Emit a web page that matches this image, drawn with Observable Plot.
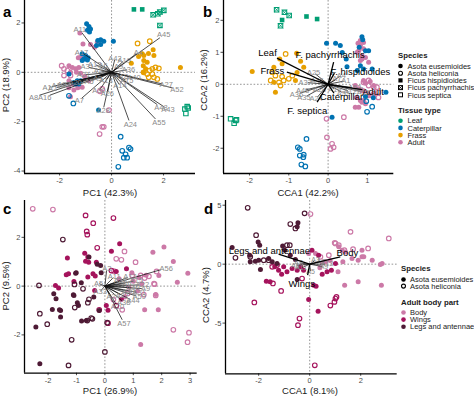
<!DOCTYPE html>
<html><head><meta charset="utf-8">
<script src="https://cdn.jsdelivr.net/npm/d3@7"></script>
<script src="https://cdn.jsdelivr.net/npm/@observablehq/plot@0.6"></script>
<style>
body{margin:0;background:#fff;}
#wrap{position:relative;width:474px;height:396px;overflow:hidden;font-family:"Liberation Sans",Arial,sans-serif;}
.pan{position:absolute;}
#ov{position:absolute;left:0;top:0;pointer-events:none;}
</style></head>
<body><div id="wrap"></div>
<script>
// ---------------- Panel a (PCA, all tissues) ----------------
const aLeafHisp = [[0.86,2.55],[1.18,2.55]];
const aLeafPachy = [[1.60,2.33],[1.78,2.37],[1.86,2.44],[2.01,2.51],[1.86,1.90]];
const aLeafSept = [[2.82,-1.49],[2.91,-1.39],[2.95,-1.45],[2.86,-1.67]];
const aCatEus = [[-0.96,1.97],[-0.87,1.86],[-0.81,1.76],[-0.93,1.70],[-0.85,1.63],[-0.53,1.29],[-0.42,1.32],[-0.30,1.26],[-0.58,1.09],[-0.42,1.13],[0.07,1.26],[-1.13,0.75],[-1.00,0.68],[-1.07,0.54],[-0.90,0.59],[-1.13,0.48],[-0.93,0.50],[-1.64,-0.07],[-1.45,-0.41],[-1.32,-0.34],[-1.19,-0.34],[-1.26,-0.47],[-1.38,-0.47],[-0.50,-1.53]];
const aCatHel = [[0.35,-2.61],[0.67,-3.05],[0.73,-3.11],[0.41,-3.18],[0.54,-3.32],[0.60,-3.46],[0.47,-3.46],[0.26,-3.83],[-1.47,-1.26],[-1.64,-0.95]];
const aFrassEus = [[1.60,0.91],[1.18,0.75],[1.24,0.68],[1.63,0.68],[0.76,0.37],[1.24,0.48],[1.37,0.41],[1.22,0.27],[2.65,0.20],[1.22,0.00],[1.31,0.14],[1.42,0.76],[1.04,0.64]];
const aFrassHel = [[1.47,1.26],[1.69,0.20],[1.82,0.16],[1.57,0.14],[1.47,0.07],[1.24,0.00],[1.37,-0.07],[1.57,-0.07],[1.63,-0.20],[1.43,-0.20],[1.76,-0.27],[1.00,1.17]];
const aAdultEus = [[-1.22,1.59],[-1.10,1.15],[-0.81,1.13],[-0.55,1.22],[-0.65,1.02],[-1.28,0.59],[-1.19,0.61],[-1.64,0.27],[-1.51,0.20],[-1.38,0.14],[-1.26,0.20],[-1.58,0.00],[-1.35,0.00],[-1.19,-0.04],[-1.64,-0.34],[-1.47,-0.47],[-1.30,-0.63],[-1.13,-0.61],[-1.45,-0.72],[-1.64,-0.63],[-1.58,-0.99],[-1.04,-0.17],[-0.88,-0.34]];
const aAdultHel = [[-1.92,0.27],[-1.83,0.14],[-1.83,-0.13],[-1.70,0.07],[-1.58,-0.13],[-0.45,-0.77],[-0.36,-0.67],[-0.10,-1.53],[-0.30,-2.21],[-0.36,-2.21],[-0.46,-2.50]];
const aLoad = [["A11",-1.13,1.59],["A17",-1.07,0.75],["A31",-0.87,0.20],["A1",-2.30,-0.58],["A8",-2.78,-0.93],["A16",-2.38,-0.93],["A2",-2.1,-0.62],["A10",-1.9,-0.5],["A33",-1.7,-0.45],["A30",-0.45,-0.70],["A7",-1.15,-1.05],["A28",-0.30,-1.42],["A24",0.67,-1.95],["A55",1.69,-1.89],["A43",2.01,-1.39],["A48",1.76,-1.31],["A52",2.33,-0.63],["A27",1.95,-0.47],["A45",1.86,1.40],["A4",0.95,0.75],["A42",0.12,0.5],["A19",0.45,0.45],["A15",0.54,-0.31],["A21",-1.0,-0.1],["A12",-0.6,0.3],["A36",0.6,0.1],["A14",0.3,-0.5],["A26",-0.15,-0.8],["A40",0.8,-0.2],["A3",-0.5,-0.25],["A5",-0.8,-0.35],["A6",-0.3,0.25],["A9",0.25,0.2],["A13",-0.2,-0.3],["A18",0.35,-0.15],["A20",-1.3,-0.4],["A22",-0.4,0.05]];

// ---------------- Panel b (CCA, all tissues) ----------------
const bLeafHisp = [[-0.55,2.12],[-0.28,2.04],[-1.17,2.01]];
const bLeafPachy = [[-1.31,2.33],[-1.11,2.25],[-0.99,2.15],[-1.21,1.83]];
const bLeafSept = [[-2.48,-1.08],[-2.35,-1.13],[-2.39,-1.22],[-2.33,-1.11]];
const bCatEus = [[-0.04,1.28],[0.19,1.28],[0.31,1.21],[0.36,0.99],[0.46,0.79],[0.86,1.49],[0.88,1.39],[0.79,1.16],[0.95,1.05],[1.03,1.05],[0.48,0.55],[0.82,0.58],[0.74,0.43],[0.90,0.48],[1.12,0.48],[1.47,-0.25],[0.95,-0.38],[1.15,-0.42],[0.10,-1.03]];
const bCatHel = [[-0.55,-1.71],[-0.77,-1.97],[-0.72,-2.02],[-0.62,-2.20],[-0.72,-2.23],[-0.63,-2.28],[-0.68,-2.51],[-0.58,-2.57],[1.12,-0.70],[0.99,-0.86],[0.97,-0.53]];
const bFrassEus = [[-1.93,0.40],[-1.23,0.79],[-1.17,0.64],[-1.38,0.53],[-0.80,0.97],[-0.70,0.72],[-0.62,0.53],[-1.34,-0.25],[-1.38,0.06],[-0.79,0.37],[-0.83,0.12]];
const bFrassHel = [[-1.08,0.95],[-1.42,0.38],[-1.34,0.27],[-1.17,0.24],[-1.13,0.12],[-1.25,0.06],[-1.46,0.12],[-1.21,-0.04],[-0.91,0.27],[-1.00,0.17]];
const bAdultEus = [[0.76,1.28],[0.82,1.37],[0.90,1.31],[0.86,0.79],[0.74,1.0],[0.90,0.12],[0.95,0.03],[1.07,0.09],[1.16,-0.04],[0.86,-0.20],[1.03,-0.36],[0.90,-0.51],[0.78,-0.72],[0.95,-0.61],[0.82,1.21],[0.90,1.11],[0.78,1.05],[0.86,0.89],[0.95,0.84],[0.82,0.74],[1.03,0.69],[0.69,-0.04],[0.78,-0.14],[0.90,-0.20],[0.72,-0.41],[0.82,-0.51],[0.69,-0.72],[0.86,-0.56]];
const bAdultHel = [[1.03,0.12],[1.24,-0.09],[1.28,-0.41],[1.16,-0.30],[0.90,0.06],[1.03,-0.04],[1.16,-0.09],[0.99,-0.30],[1.12,-0.35],[1.28,-0.25],[-0.04,-1.08],[0.40,-1.03],[-0.03,-1.66],[0.10,-1.86],[0.14,-1.97],[0.06,-2.02]];
const bEnvNames = ["Leaf","Frass","F. pachyrrhachis","F. hispidioides","Caterpillar","Adult","F. septica"];
const bEnvX = [-1.30,-1.05,0.14,0.16,0.15,0.87,-0.28];
const bEnvY = [0.82,0.38,0.69,0.35,-0.28,-0.17,-0.56];
const bEnvLabX = [-1.54,-1.42,0.05,0.82,0.34,1.14,-0.53];
const bEnvLabY = [0.99,0.41,0.93,0.37,-0.41,-0.25,-0.82];
const bLoad = [["A25",-0.33,0.33],["A37",-0.52,0.05],["A36",-0.72,-0.28],["A43",-0.58,-0.18],["A35",-0.55,-0.37],["A24",-0.27,-0.40],["A4",0.3,0.25],["A1",0.4,0.1],["A52",0.6,-0.1],["A8",0.7,-0.15],["A12",0.5,-0.2],["A16",0.8,-0.22],["A55",0.35,-0.25],["A7",0.2,0.15],["A19",0.15,-0.15],["A28",-0.2,-0.15],["A45",-0.25,0.1]];

// ---------------- Panel c (PCA, adults) ----------------
const cBodyEus = [[2.08,1.60],[1.69,1.39],[2.41,1.01],[2.92,0.53],[2.55,0.16],[1.90,0.44],[1.79,-0.34],[1.88,-0.97],[1.40,-0.97],[1.26,-2.39],[1.45,0.45],[1.2,0.35],[1.0,0.2],[0.85,-0.05],[1.15,-0.2],[0.7,-0.45],[0.5,0.3],[1.3,0.1],[0.95,0.55]];
const cWingsEus = [[0.52,1.74],[0.23,1.43],[-1.32,1.15],[-0.71,1.35],[-0.60,1.19],[-0.68,1.02],[-0.57,0.98],[-0.30,0.98],[-1.36,0.47],[-1.28,0.51],[-1.09,0.19],[-0.42,0.51],[-0.34,0.41],[-0.60,0.37],[-1.74,0.03],[-1.63,-0.08],[0.76,0.71],[0.58,-0.54],[0.05,-0.79],[0.11,-0.99],[-0.36,-0.18],[0.4,0.6]];
const cLegsEus = [[-2.29,-3.18],[-2.43,-1.68],[-1.85,-0.96],[-1.56,-1.00],[-1.56,-1.27],[-1.80,-0.31],[-1.72,-0.52],[-1.11,-0.35],[-0.97,-0.68],[-0.93,-0.79],[-0.82,-1.43],[-0.65,-1.41],[-1.01,0.55],[-1.03,0.53],[-0.27,0.90],[-0.15,0.85],[-0.56,1.19],[-0.13,0.55],[-0.83,0.14],[-0.39,-0.45],[-1.09,-0.38],[-1.60,-0.97],[-0.2,-1.0]];
const cBodyHel = [[-2.54,3.17],[-1.83,3.14],[0.69,1.42],[0.40,1.12],[0.58,1.08],[1.08,0.98],[1.55,0.40],[1.26,0.44],[1.40,0.33],[1.82,0.60],[1.75,0.08],[1.79,-0.38],[2.41,-1.79],[2.96,-1.91],[2.91,-2.30],[1.37,-0.35],[0.96,0.44],[1.73,0.10],[0.32,0.61],[0.61,-0.97],[0.3,-0.55],[0.8,-0.3]];
const cWingsHel = [[-0.68,2.90],[-0.41,2.58],[0.30,2.79],[-0.64,2.24],[-0.62,2.11],[-0.27,1.57],[0.23,0.64],[0.11,-1.52],[-0.20,-0.97],[0.4,-0.8]];
const cLegsHel = [[-1.48,1.91],[-2.32,0.03],[-0.77,-0.11],[-1.07,0.07],[-0.56,-0.54],[-0.60,-0.68],[-1.06,-0.88],[-0.48,-1.31],[-0.62,-1.41],[0.08,-1.50],[-2.29,-1.13],[-2.03,-1.56],[-1.17,-2.20],[0.00,-2.70],[-1.28,-3.25],[-0.44,-1.34]];
const cLoad = [["A56",1.96,0.67],["A57",0.61,-1.38],["A59",1.10,-0.40],["A3",0.06,0.64],["A12",0.8,0.35],["A15",1.0,0.2],["A22",1.2,0.05],["A9",1.3,-0.1],["A31",1.1,-0.25],["A44",0.9,-0.55],["A38",0.6,-0.6],["A20",0.4,-0.75],["A6",0.7,0.1],["A18",0.5,0.2],["A40",0.9,-0.05],["A48",0.75,-0.2],["A27",0.55,-0.35],["A11",0.3,0.35],["A2",0.2,-0.4],["A5",-0.2,0.1],["A33",-0.15,-0.2]];

// ---------------- Panel d (CCA, adults) ----------------
const dLegsEus = [[-3.04,1.42],[-2.02,1.89],[-1.96,1.61],[-2.33,0.20],[-2.13,0.25],[-2.0,0.34],[-2.35,0.76],[-1.93,-0.45],[-1.61,0.48],[-1.47,0.20],[-1.28,0.06],[-1.06,1.53],[-0.98,1.19],[-0.46,3.51],[-0.49,3.17],[-0.76,0.76],[-0.56,0.40],[-0.49,-1.30]];
const dWingsEus = [[-1.70,-1.44],[-1.37,-0.23],[-1.22,-0.51],[-1.02,-0.23],[-0.89,-0.65],[-0.69,-0.37],[-0.49,-0.51],[-0.36,-0.23],[-0.24,-0.51],[-0.04,-3.0],[0.33,-3.99],[0.25,-1.87],[0.16,-1.78],[0.49,-0.85],[0.68,-0.65],[0.85,-0.51],[1.01,0.06],[0.09,1.19],[0.35,0.76],[-1.55,-1.5],[-1.1,-0.85]];
const dBodyEus = [[1.14,1.47],[1.27,1.19],[1.40,1.04],[1.66,0.48],[2.05,0.62],[2.45,0.34],[2.84,0.06],[1.90,-1.50],[2.81,-1.78],[1.37,-1.78],[1.11,-0.65],[2.12,0.62],[2.77,-0.03],[2.05,1.19],[1.90,0.34],[-0.04,0.9],[0.23,0.9],[0.62,0.2],[0.5,0.1],[0.8,0.3],[1.3,0.2],[0.4,-0.3]];
const dLegsHel = [[-2.43,4.78],[-2.10,2.46],[-2.91,0.54],[-2.33,0.62],[-1.80,0.34],[-1.61,0.34],[-0.89,1.61],[-0.78,1.61],[-0.56,3.03],[-0.76,3.40],[-0.20,4.31]];
const dWingsHel = [[-1.47,-0.23],[-1.44,-1.64],[-1.12,-2.27],[-2.17,-3.25],[-0.30,-1.22],[-0.40,-4.61],[-0.46,-5.18],[0.20,-8.58],[0.81,-3.51],[1.01,-2.92],[0.97,-3.20],[1.05,-2.78],[-1.28,-0.08]];
const dBodyHel = [[0.03,4.25],[1.60,2.74],[1.01,1.76],[1.14,1.61],[0.42,0.62],[0.75,0.76],[1.36,1.19],[1.70,1.27],[3.10,2.18],[2.29,1.33],[0.98,1.81]];
const dEnvNames = ["Legs and antennae","Body","Wings"];
const dEnvX = [-1.22,1.20,-0.08];
const dEnvY = [0.85,0.62,-0.93];
const dEnvLabX = [-1.58,1.48,-0.31];
const dEnvLabY = [1.10,0.96,-1.64];
const dLoad = [["A5",0.03,-0.6],["A2",0.4,0.2],["A7",-0.4,0.1],["A9",0.5,-0.2],["A11",-0.3,-0.3],["A3",0.2,0.3],["A13",0.6,0.0],["A6",-0.5,-0.1]];

// ---------------- Legends / labels ----------------
const speciesTop = ["Asota eusemioides","Asota heliconia","Ficus hispidioides","Ficus pachyrrhachis","Ficus septica"];
const speciesShapes = ["fc","oc","fs","xs","os"];
const tissueTypes = ["Leaf","Caterpillar","Frass","Adult"];
const tissueColors = ["#009E73","#0072B2","#E69F00","#CC79A7"];
const speciesBottom = ["Asota eusemioides","Asota heliconia"];
const bodyParts = ["Body","Wings","Legs and antennae"];
const bodyColors = ["#CC79A7","#A5135C","#4E1A35"];
const axisTitles = {a:["PC1 (42.3%)","PC2 (18.9%)"], b:["CCA1 (42.2%)","CCA2 (16.2%)"], c:["PC1 (26.9%)","PC2 (9.5%)"], d:["CCA1 (8.1%)","CCA2 (4.7%)"]};

const [LEAF,CAT,FRASS,ADULT] = tissueColors;
const [BODY,WINGS,LEGS] = bodyColors;
const FONT = '"Liberation Sans", Arial, sans-serif';
const X = d => d[0], Y = d => d[1];

function pts(data, color, kind) {
  const o = {x: X, y: Y};
  if (kind === "fc") return [Plot.dot(data, {...o, r: 2.5, fill: color})];
  if (kind === "oc") return [Plot.dot(data, {...o, r: 2.3, fill: "none", stroke: color, strokeWidth: 1.15})];
  if (kind === "fs") return [Plot.dot(data, {...o, symbol: "square", r: 2.6, fill: color})];
  if (kind === "os") return [Plot.dot(data, {...o, symbol: "square", r: 2.5, fill: "none", stroke: color, strokeWidth: 1.1})];
  if (kind === "xs") return [Plot.dot(data, {...o, symbol: "square", r: 2.5, fill: "none", stroke: color, strokeWidth: 1.1}),
                            Plot.dot(data, {...o, symbol: "times", r: 2.4, fill: "none", stroke: color, strokeWidth: 0.9})];
}
function loads(data, k, col, fs) {
  return [
    Plot.link(data, {x1: () => 0, y1: () => 0, x2: d => d[1], y2: d => d[2], stroke: "#111", strokeWidth: 0.75}),
    Plot.text(data, {x: d => d[1] * k, y: d => d[2] * k, text: d => d[0], fill: col, fontSize: fs})
  ];
}
function envArrows(names, xs, ys, lx, ly) {
  const rows = names.map((n, i) => ({n, x: xs[i], y: ys[i], lx: lx[i], ly: ly[i]}));
  return [
    Plot.link(rows, {x1: () => 0, y1: () => 0, x2: "x", y2: "y", stroke: "#000", strokeWidth: 1.3}),
    Plot.text(rows, {x: "lx", y: "ly", text: "n", fill: "#000", fontSize: 9.5})
  ];
}
function panel(cfg) {
  const dash = {stroke: "#7a7a7a", strokeWidth: 0.8, strokeDasharray: "1.6,1.8"};
  const ax = {tickSize: 2.5, tickPadding: 1.5, label: null, tickFormat: d => String(d), fontSize: 7.5, color: "#4d4d4d"};
  const svg = Plot.plot({
    width: 200, height: 200,
    marginLeft: cfg.ml, marginRight: cfg.mr, marginTop: cfg.mt, marginBottom: cfg.mb,
    x: {domain: cfg.xd}, y: {domain: cfg.yd},
    style: {fontFamily: FONT, fontSize: "7.5px", background: "none", overflow: "visible"},
    marks: [
      Plot.ruleX([0], dash), Plot.ruleY([0], dash),
      ...cfg.marks,
      Plot.axisX(cfg.xt, {anchor: "bottom", ...ax}),
      Plot.axisY(cfg.yt, {anchor: "left", ...ax}),
      Plot.ruleY([cfg.yd[0]], {stroke: "#000", strokeWidth: 1.3}),
      Plot.ruleX([cfg.xd[0]], {stroke: "#000", strokeWidth: 1.3})
    ]
  });
  const div = document.createElement("div");
  div.className = "pan";
  div.style.left = cfg.left + "px"; div.style.top = cfg.top + "px";
  div.appendChild(svg);
  document.getElementById("wrap").appendChild(div);
}

panel({left: 0, top: 0, ml: 24, mr: 5, mt: 0, mb: 27, xd: [-3.35, 3.23], yd: [-4.1, 2.91], xt: [-2, 0, 2], yt: [-4, -2, 0, 2],
  marks: [
    ...pts(aAdultEus, ADULT, "fc"), ...pts(aAdultHel, ADULT, "oc"),
    ...pts(aCatEus, CAT, "fc"), ...pts(aCatHel, CAT, "oc"),
    ...pts(aFrassEus, FRASS, "fc"), ...pts(aFrassHel, FRASS, "oc"),
    ...pts(aLeafHisp, LEAF, "fs"), ...pts(aLeafPachy, LEAF, "xs"), ...pts(aLeafSept, LEAF, "os"),
    ...loads(aLoad, 1.08, "#8a8a8a", 7.5)
  ]});
panel({left: 199, top: 0, ml: 24, mr: 5.7, mt: 0, mb: 27, xd: [-2.66, 1.67], yd: [-2.79, 2.62], xt: [-2, -1, 0, 1], yt: [-2, -1, 0, 1, 2],
  marks: [
    ...pts(bAdultEus, ADULT, "fc"), ...pts(bAdultHel, ADULT, "oc"),
    ...pts(bCatEus, CAT, "fc"), ...pts(bCatHel, CAT, "oc"),
    ...pts(bFrassEus, FRASS, "fc"), ...pts(bFrassHel, FRASS, "oc"),
    ...pts(bLeafHisp, LEAF, "fs"), ...pts(bLeafPachy, LEAF, "xs"), ...pts(bLeafSept, LEAF, "os"),
    ...loads(bLoad, 1.12, "#8a8a8a", 7.5),
    ...envArrows(bEnvNames, bEnvX, bEnvY, bEnvLabX, bEnvLabY)
  ]});
panel({left: 0, top: 196, ml: 24, mr: 3.3, mt: 4, mb: 23.3, xd: [-2.83, 3.25], yd: [-3.57, 3.51], xt: [-2, -1, 0, 1, 2, 3], yt: [-2, 0, 2],
  marks: [
    ...pts(cBodyEus, BODY, "fc"), ...pts(cBodyHel, BODY, "oc"),
    ...pts(cWingsEus, WINGS, "fc"), ...pts(cWingsHel, WINGS, "oc"),
    ...pts(cLegsEus, LEGS, "fc"), ...pts(cLegsHel, LEGS, "oc"),
    ...loads(cLoad, 1.1, "#8a8a8a", 7.5)
  ]});
panel({left: 199, top: 196, ml: 26, mr: 2.3, mt: 4, mb: 22.7, xd: [-3.3, 3.43], yd: [-9.3, 5.4], xt: [-2, 0, 2], yt: [-5, 0, 5],
  marks: [
    ...pts(dBodyEus, BODY, "fc"), ...pts(dBodyHel, BODY, "oc"),
    ...pts(dWingsEus, WINGS, "fc"), ...pts(dWingsHel, WINGS, "oc"),
    ...pts(dLegsEus, LEGS, "fc"), ...pts(dLegsHel, LEGS, "oc"),
    ...loads(dLoad, 1.12, "#8a8a8a", 7),
    ...envArrows(dEnvNames, dEnvX, dEnvY, dEnvLabX, dEnvLabY)
  ]});

// ---------------- Overlay: letters, axis titles, legends ----------------
function sym(kind, cx, cy, color) {
  if (kind === "fc") return `<circle cx="${cx}" cy="${cy}" r="2.3" fill="${color}"/>`;
  if (kind === "oc") return `<circle cx="${cx}" cy="${cy}" r="2" fill="none" stroke="${color}" stroke-width="1.1"/>`;
  if (kind === "fs") return `<rect x="${cx-2.1}" y="${cy-2.1}" width="4.2" height="4.2" fill="${color}"/>`;
  if (kind === "os") return `<rect x="${cx-2}" y="${cy-2}" width="4" height="4" fill="none" stroke="${color}" stroke-width="1"/>`;
  return `<rect x="${cx-2}" y="${cy-2}" width="4" height="4" fill="none" stroke="${color}" stroke-width="1"/>` +
    `<path d="M${cx-2},${cy-2}L${cx+2},${cy+2}M${cx+2},${cy-2}L${cx-2},${cy+2}" stroke="${color}" stroke-width="0.8"/>`;
}
let s = `<svg id="ov" width="474" height="396" font-family='${FONT}'>`;
[["a",3,17],["b",203,16.5],["c",3,213.5],["d",204,213.5]].forEach(([t,x,y]) => {
  s += `<text x="${x}" y="${y}" font-size="15" font-weight="bold" fill="#000">${t}</text>`;
});
const xt = [["a",110,195.5],["b",308,195.5],["c",110,394],["d",310,394]];
xt.forEach(([k,x,y]) => { s += `<text x="${x}" y="${y}" font-size="9.5" text-anchor="middle" fill="#1a1a1a">${axisTitles[k][0]}</text>`; });
const yt = [["a",9,85],["b",206.5,80],["c",9,286],["d",208.5,295]];
yt.forEach(([k,x,y]) => { s += `<text transform="translate(${x},${y}) rotate(-90)" font-size="9.5" text-anchor="middle" fill="#1a1a1a">${axisTitles[k][1]}</text>`; });
// top legend
s += `<text x="398" y="58" font-size="7.8" font-weight="bold" fill="#1a1a1a">Species</text>`;
speciesTop.forEach((n, i) => { const cy = 66 + i * 7.2; s += sym(speciesShapes[i], 400.5, cy, "#000") + `<text x="407.5" y="${cy + 2.7}" font-size="7.5" fill="#1a1a1a">${n}</text>`; });
s += `<text x="398" y="113" font-size="7.8" font-weight="bold" fill="#1a1a1a">Tissue type</text>`;
tissueTypes.forEach((n, i) => { const cy = 120.7 + i * 7.2; s += sym("fc", 400.5, cy, tissueColors[i]) + `<text x="407.5" y="${cy + 2.7}" font-size="7.5" fill="#1a1a1a">${n}</text>`; });
// bottom legend
s += `<text x="401" y="270.5" font-size="7.8" font-weight="bold" fill="#1a1a1a">Species</text>`;
speciesBottom.forEach((n, i) => { const cy = 279.5 + i * 6.6; s += sym(i ? "oc" : "fc", 403.5, cy, "#000") + `<text x="410" y="${cy + 2.7}" font-size="7.5" fill="#1a1a1a">${n}</text>`; });
s += `<text x="401" y="305" font-size="7.8" font-weight="bold" fill="#1a1a1a">Adult body part</text>`;
bodyParts.forEach((n, i) => { const cy = 312.5 + i * 7.1; s += sym("fc", 403.5, cy, bodyColors[i]) + `<text x="410" y="${cy + 2.7}" font-size="7.5" fill="#1a1a1a">${n}</text>`; });
s += `</svg>`;
document.getElementById("wrap").insertAdjacentHTML("beforeend", s);
</script>
</body></html>
